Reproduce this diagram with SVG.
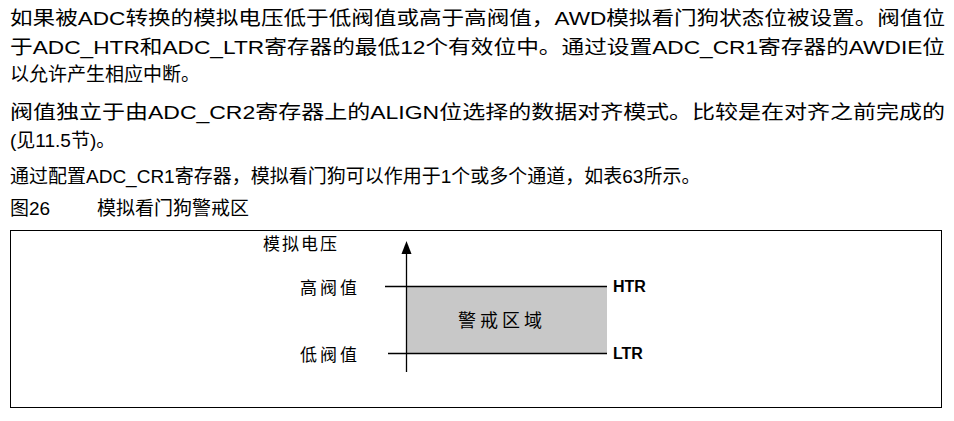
<svg xmlns="http://www.w3.org/2000/svg" width="954" height="421" viewBox="0 0 954 421">
<style>
.t{font-family:"Liberation Sans","Noto Sans CJK SC",sans-serif;font-size:19px;fill:#000}
.d{font-family:"Noto Sans CJK SC",sans-serif;font-size:17px;letter-spacing:3px;fill:#000}
.b{font-family:"Liberation Sans",sans-serif;font-size:16px;font-weight:bold;fill:#000}
.l{stroke:#000;stroke-width:1.3;fill:none}
</style>
<rect width="954" height="421" fill="#fff"/>
<text class="t" x="10" y="25" textLength="935" lengthAdjust="spacingAndGlyphs">如果被ADC转换的模拟电压低于低阀值或高于高阀值，AWD模拟看门狗状态位被设置。阀值位</text>
<text class="t" x="10" y="54" textLength="935" lengthAdjust="spacingAndGlyphs">于ADC_HTR和ADC_LTR寄存器的最低12个有效位中。通过设置ADC_CR1寄存器的AWDIE位</text>
<text class="t" x="10" y="81">以允许产生相应中断。</text>
<text class="t" x="10" y="119" textLength="935" lengthAdjust="spacingAndGlyphs">阀值独立于由ADC_CR2寄存器上的ALIGN位选择的数据对齐模式。比较是在对齐之前完成的</text>
<text class="t" x="10" y="147">(见11.5节)。</text>
<text class="t" x="10" y="183">通过配置ADC_CR1寄存器，模拟看门狗可以作用于1个或多个通道，如表63所示。</text>
<text class="t" x="10" y="215">图26</text>
<text class="t" x="97" y="215">模拟看门狗警戒区</text>
<rect x="10.5" y="230.5" width="931" height="177" fill="none" stroke="#000" stroke-width="1"/>
<g id="zone"><rect x="407" y="287" width="200" height="66" fill="#c8c8c8"/><text class="d" x="458" y="327" style="font-size:18px;letter-spacing:4px">警戒区域</text></g>
<g id="ylabel"><text class="d" x="263" y="250" style="letter-spacing:2px">模拟电压</text></g>
<g id="high"><text class="d" x="300" y="294">高阀值</text><text class="b" x="613" y="292">HTR</text></g>
<g id="low"><text class="d" x="300" y="361">低阀值</text><text class="b" x="613" y="359">LTR</text></g>
<g id="connectors">
<line class="l" x1="406.5" y1="372" x2="406.5" y2="250"/>
<polygon points="406.5,241 401.5,254 411.5,254" fill="#000"/>
<line class="l" x1="385" y1="286.5" x2="607" y2="286.5"/>
<line class="l" x1="388" y1="353.5" x2="607" y2="353.5"/>
</g>
</svg>
